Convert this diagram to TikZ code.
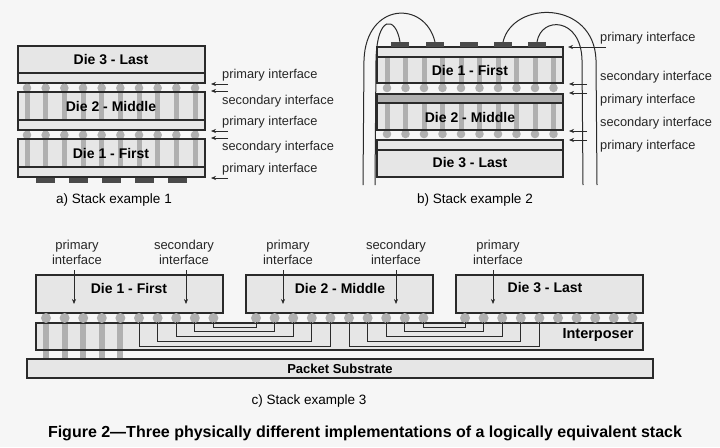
\documentclass[tikz,border=0pt]{standalone}
\usepackage{fontspec}
\setmainfont{Liberation Sans}
\usetikzlibrary{arrows.meta}
\definecolor{bg}{HTML}{F6F6F6}
\definecolor{diec}{HTML}{E6E6E6}
\definecolor{pil}{HTML}{B0B0B0}
\definecolor{padc}{HTML}{4A4A4A}
\definecolor{edge}{HTML}{2A2A2A}
\begin{document}
\begin{tikzpicture}[x=1pt,y=-1pt,
 die/.style={draw=edge,line width=1.1pt,fill=diec},
 dline/.style={draw=edge,line width=1.1pt},
 pillar/.style={fill=pil},
 bump/.style={fill=pil,draw=none},
 pad/.style={fill=padc},
 lbl/.style={anchor=west,font=\fontsize{12.8}{13}\selectfont,inner sep=0pt,text=black!85},
 dtxt/.style={font=\fontsize{14}{15}\bfseries\selectfont,inner sep=0pt},
 capt/.style={font=\fontsize{13.5}{14}\selectfont,inner sep=0pt},
 clbl/.style={align=center,font=\fontsize{13}{15}\selectfont,inner sep=0pt,text=black!85},
 arr/.style={-{Stealth[length=5pt,width=4pt]},line width=0.6pt,draw=edge},
 wire/.style={draw=edge,line width=1pt},
]
\fill[bg] (0,0) rectangle (720,447);
\useasboundingbox (0,0) rectangle (720,447);

% ---------------- (a) ----------------
\draw[die] (18,46) rectangle (205,83);
\draw[die] (18,92) rectangle (205,130);
\draw[die] (18,139) rectangle (205,177);
\foreach \i in {0,...,9}{
  \fill[pillar] ({27+\i*18.67-2.5},84) rectangle ++(5,37);
  \fill[pillar] ({27+\i*18.67-2.5},131) rectangle ++(5,37);
  \fill[bump] ({27+\i*18.67},88) circle (4.3);
  \fill[bump] ({27+\i*18.67},135) circle (4.3);
}
\draw[dline] (18,92) rectangle (205,130);
\draw[dline] (18,139) rectangle (205,177);
\draw[dline] (18,73) -- (205,73);
\draw[dline] (18,120) -- (205,120);
\draw[dline] (18,167) -- (205,167);
\foreach \i in {0,...,4} \fill[pad] ({36+\i*33},177.5) rectangle ++(19,5);
\node[dtxt] (a3) at (111,60) {Die 3 - Last};
\node[dtxt] (a2) at (111,106) {Die 2 - Middle};
\node[dtxt] (a1) at (111,153) {Die 1 - First};
\node[lbl] (al1) at (222,75) {primary interface};
\node[lbl] (al2) at (222,101) {secondary interface};
\node[lbl] (al3) at (222,122) {primary interface};
\node[lbl] (al4) at (222,147) {secondary interface};
\node[lbl] (al5) at (222,169) {primary interface};
\coordinate (aa1) at (228,84); \coordinate (ab1) at (211,84);
\coordinate (aa2) at (228,91); \coordinate (ab2) at (211,91);
\coordinate (aa3) at (228,131); \coordinate (ab3) at (211,131);
\coordinate (aa4) at (228,138); \coordinate (ab4) at (211,138);
\coordinate (aa5) at (228,178); \coordinate (ab5) at (211,178);
\foreach \k in {1,...,5} \draw[arr] (aa\k) -- (ab\k);
\node[capt] (capa) at (114,200) {a) Stack example 1};

% ---------------- (b) ----------------
\draw[die] (377,47) rectangle (563,83);
\draw[die] (377,94) rectangle (563,130);
\fill[pil] (377,94) rectangle (563,103);
\draw[die] (377,140) rectangle (563,177);
\foreach \i in {0,...,9}{
  \fill[pillar] ({387+\i*18.5-2.5},57) rectangle ++(5,34);
  \fill[pillar] ({387+\i*18.5-2.5},103) rectangle ++(5,34);
  \fill[bump] ({387+\i*18.5},88) circle (4.3);
  \fill[bump] ({387+\i*18.5},134) circle (4.3);
}
\draw[dline] (377,47) rectangle (563,83);
\draw[dline] (377,94) rectangle (563,130);
\draw[dline] (377,140) rectangle (563,177);
\draw[dline] (377,57) -- (563,57);
\draw[dline] (377,103) -- (563,103);
\draw[dline] (377,150) -- (563,150);
\foreach \x in {400,435,469,503,537} \fill[pad] ({\x-9},42) rectangle ++(18,5);
\node[dtxt] (b1) at (470,70) {Die 1 - First};
\node[dtxt] (b2) at (470,117) {Die 2 - Middle};
\node[dtxt] (b3) at (470,163) {Die 3 - Last};
\draw[wire] (363,185) -- (364,60) .. controls (366,2) and (425,0) .. (435,42);
\draw[wire] (375,185) -- (376,60) .. controls (377,14) and (396,16) .. (400,42);
\draw[wire] (597,185) -- (596,60) .. controls (594,0) and (513,0) .. (503,42);
\draw[wire] (583,185) -- (582,60) .. controls (581,17) and (541,16) .. (537,42);
\node[lbl] (bl1) at (600,38) {primary interface};
\node[lbl] (bl2) at (600,77) {secondary interface};
\node[lbl] (bl3) at (600,100) {primary interface};
\node[lbl] (bl4) at (600,123) {secondary interface};
\node[lbl] (bl5) at (600,146) {primary interface};
\coordinate (ba1) at (606,47); \coordinate (bb1) at (568,47);
\coordinate (ba2) at (587,84); \coordinate (bb2) at (569,84);
\coordinate (ba3) at (587,93); \coordinate (bb3) at (569,93);
\coordinate (ba4) at (587,131); \coordinate (bb4) at (569,131);
\coordinate (ba5) at (587,140); \coordinate (bb5) at (569,140);
\foreach \k in {1,...,5} \draw[arr] (ba\k) -- (bb\k);
\node[capt] (capb) at (475,200) {b) Stack example 2};

% ---------------- (c) ----------------
\draw[die] (27,359) rectangle (653,378);
\node[font=\fontsize{13}{14}\bfseries\selectfont,inner sep=0pt] (sub) at (340,368.5) {Packet Substrate};
\draw[die] (36,323) rectangle (643,350);
\foreach \i in {0,...,4} \fill[pillar] ({46+\i*18.6-3},318) rectangle ++(6,41);
\draw[dline] (36,323) rectangle (643,350);
\draw[dline] (27,359) rectangle (653,378);
\node[font=\fontsize{14.5}{15}\bfseries\selectfont,inner sep=0pt] (ip) at (598,335) {Interposer};
\draw[die] (36,275) rectangle (223,313);
\draw[die] (246,275) rectangle (433,313);
\draw[die] (456,275) rectangle (643,313);
\foreach \i in {0,...,9}{
  \fill[bump] ({46+\i*18.6},318) circle (5);
  \fill[bump] ({256+\i*18.6},318) circle (5);
  \fill[bump] ({465+\i*18.6},318) circle (5);
}
\foreach \k in {0,...,4}{
  \draw[wire] ({46+(9-\k)*18.6},322) -- ({46+(9-\k)*18.6},{327+\k*4.8}) -- ({256+\k*18.6},{327+\k*4.8}) -- ({256+\k*18.6},322);
  \draw[wire] ({256+(9-\k)*18.6},322) -- ({256+(9-\k)*18.6},{327+\k*4.8}) -- ({465+\k*18.6},{327+\k*4.8}) -- ({465+\k*18.6},322);
}
\node[dtxt] (c1) at (129,288) {Die 1 - First};
\node[dtxt] (c2) at (340,288) {Die 2 - Middle};
\node[dtxt] (c3) at (545,288) {Die 3 - Last};
\node[clbl] (cl1) at (77,252) {primary\\interface};
\node[clbl] (cl2) at (184,252) {secondary\\interface};
\node[clbl] (cl3) at (288,252) {primary\\interface};
\node[clbl] (cl4) at (396,252) {secondary\\interface};
\node[clbl] (cl5) at (498,252) {primary\\interface};
\coordinate (ct1) at (74,270); \coordinate (ch1) at (74,304);
\coordinate (ct2) at (186,270); \coordinate (ch2) at (186,304);
\coordinate (ct3) at (283,270); \coordinate (ch3) at (283,304);
\coordinate (ct4) at (396,270); \coordinate (ch4) at (396,304);
\coordinate (ct5) at (493,270); \coordinate (ch5) at (493,304);
\foreach \k in {1,...,5} \draw[arr] (ct\k) -- (ch\k);
\node[capt] (capc) at (309,401) {c) Stack example 3};

\node[font=\fontsize{16}{17}\bfseries\selectfont,inner sep=0pt] (fig) at (365,433) {Figure 2—Three physically different implementations of a logically equivalent stack};
\end{tikzpicture}
\end{document}
